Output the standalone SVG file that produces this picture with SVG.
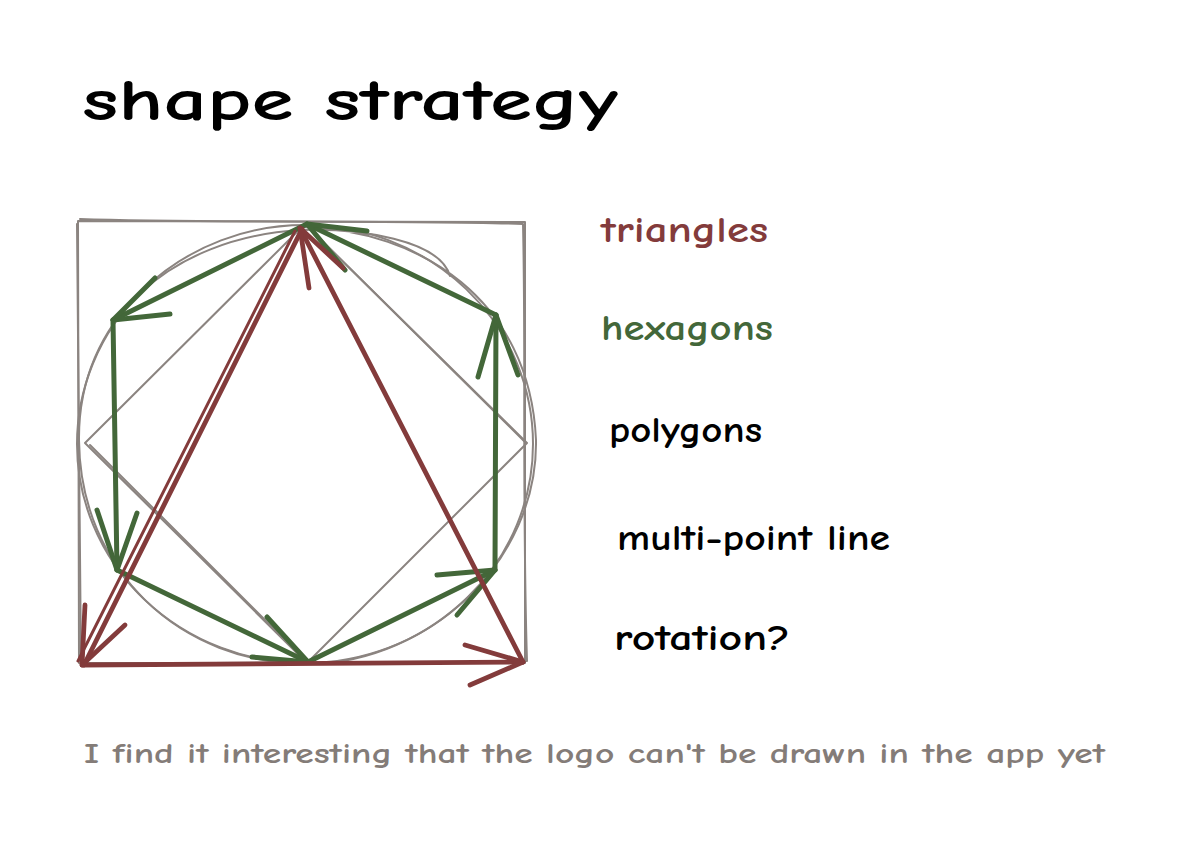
<svg xmlns="http://www.w3.org/2000/svg" width="1182" height="848" viewBox="0 0 1182 848">
<style>
.g{fill:none;stroke:#8b8480;stroke-width:2;stroke-linecap:round;stroke-linejoin:round}
.r{fill:none;stroke:#833b3b;stroke-width:4.8;stroke-linecap:round;stroke-linejoin:round}
.r2{fill:none;stroke:#833b3b;stroke-width:3;stroke-linecap:round;stroke-linejoin:round}
.h{fill:none;stroke:#436739;stroke-width:5;stroke-linecap:round;stroke-linejoin:round}
.t{font-family:"Comic Neue","Liberation Sans",sans-serif;font-weight:700}
</style>
<rect width="1182" height="848" fill="#ffffff"/>
<g id="title"><text class="t" x="82" y="120" font-size="58" textLength="536" lengthAdjust="spacingAndGlyphs" fill="#000">shape strategy</text></g>
<g id="square">
<path class="g" d="M78 221 L525 222 L525 663 L79 663 Z"/>
<path class="g" d="M80 219 C200 223 400 220 523 224 C526 350 522 500 527 661 C400 665 200 660 81 665 C79 500 77 350 77 224"/>
</g>
<g id="circle">
<ellipse class="g" cx="305" cy="444" rx="228" ry="219"/>
<path class="g" d="M303 227 C420 230 530 300 536 440 C538 560 430 662 310 664 C180 665 80 570 79 440 C78 320 170 238 300 230 C360 228 440 240 450 276"/>
</g>
<g id="diamond">
<path class="g" d="M305 224 L527 443 L307 663 L85 443 Z"/>
<path class="g" d="M307 226 L524 441 M90 445 L300 655"/>
</g>
<g id="connectors">
<g id="hexagon">
<path class="h" d="M307 224 L113 320"/>
<path class="h" d="M155 278 L113 320 L170 314"/>
<path class="h" d="M113 320 L117 570"/>
<path class="h" d="M97 510 L117 570 L137 513"/>
<path class="h" d="M117 570 L308 662"/>
<path class="h" d="M267 617 L308 662 L252 657"/>
<path class="h" d="M308 662 L495 570"/>
<path class="h" d="M437 575 L495 570 L457 615"/>
<path class="h" d="M495 570 L496 315"/>
<path class="h" d="M478 377 L496 315 L518 375"/>
<path class="h" d="M496 315 L307 224"/>
<path class="h" d="M367 231 L307 224 L345 270"/>
</g>
<g id="triangle">
<path class="r" d="M302 229 L84 665"/>
<path class="r2" d="M295 231 L78 661"/>
<path class="r" d="M85 605 L82 665 L125 625"/>
<path class="r" d="M82 665 L523 662"/>
<path class="r" d="M465 645 L523 662 L470 685"/>
<path class="r" d="M523 662 L300 228"/>
<path class="r" d="M309 288 L300 228 L343 268"/>
</g>
</g>
<g id="labels">
<text class="t" x="601" y="242" font-size="36" textLength="167" lengthAdjust="spacingAndGlyphs" fill="#833b3b">triangles</text>
<text class="t" x="601" y="340" font-size="36" textLength="172" lengthAdjust="spacingAndGlyphs" fill="#436739">hexagons</text>
<text class="t" x="609" y="442" font-size="36" textLength="153" lengthAdjust="spacingAndGlyphs" fill="#000">polygons</text>
<text class="t" x="617" y="550" font-size="36" textLength="273" lengthAdjust="spacingAndGlyphs" fill="#000">multi-point line</text>
<text class="t" x="614" y="650" font-size="36" textLength="176" lengthAdjust="spacingAndGlyphs" fill="#000">rotation?</text>
</g>
<g id="note"><text class="t" x="84" y="763" font-size="28" textLength="1021" lengthAdjust="spacingAndGlyphs" fill="#847c78">I find it interesting that the logo can't be drawn in the app yet</text></g>
</svg>
